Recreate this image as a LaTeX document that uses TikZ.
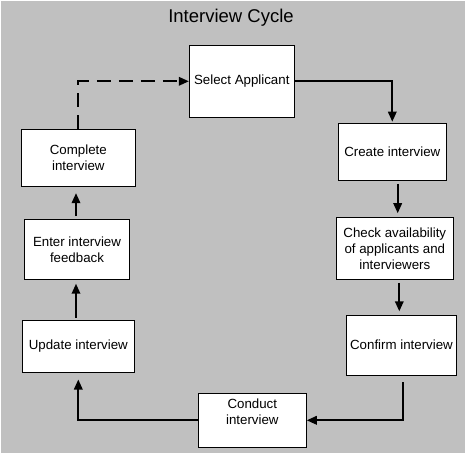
\documentclass[tikz,border=0pt]{standalone}
\usepackage{fontspec}
\setmainfont{Liberation Sans}
\usetikzlibrary{arrows.meta,calc}
\tikzset{
  box/.style={draw=black, line width=0.9pt, fill=white, inner sep=0pt, align=center,
    font=\fontsize{13.3}{16}\selectfont},
  txt/.style={inner sep=0pt, align=center, font=\fontsize{13.3}{16}\selectfont},
  arr/.style={line width=1.8pt, -{Triangle[length=10pt,width=8.5pt]}},
  dasharr/.style={arr, dash pattern=on 14pt off 8pt},
}
\begin{document}
\begin{tikzpicture}[x=1pt,y=-1pt]
\useasboundingbox (0,0) rectangle (466,454);
\fill[white] (0,0) rectangle (466,454);
\fill[fill={rgb,255:red,192;green,192;blue,192}] (1,1) rectangle (465,453);
\node[inner sep=0pt, font=\fontsize{18.5}{22}\selectfont] (title) at (231,17.3) {Interview Cycle};

\node[box, minimum width=105pt, minimum height=72pt] (sel) at (241.8,81.3) {Select Applicant};
\node[box, minimum width=108pt, minimum height=56.7pt] (cre) at (392.3,152) {Create interview};
\node[box, minimum width=117pt, minimum height=61.7pt] (chk) at (394.8,248.5) {Check availability\\of applicants and\\interviewers};
\node[box, minimum width=109.7pt, minimum height=59.7pt] (con) at (401.5,345.2) {Confirm interview};
\node[box, minimum width=108pt, minimum height=54pt] (cond) at (252.3,420.3) {};
\node[txt] (condt) at (252.3,411.3) {Conduct\\interview};
\node[box, minimum width=112pt, minimum height=52.3pt] (upd) at (78.3,346.2) {Update interview};
\node[box, minimum width=105.3pt, minimum height=60pt] (ent) at (77,249.3) {Enter interview\\feedback};
\node[box, minimum width=114pt, minimum height=57pt] (cmp) at (78.3,157.8) {Complete\\interview};

\draw[dasharr] (cmp.north) |- (sel.west);
\draw[arr] (sel.east) -| ($(cre.north)+(0,-1.5)$);
\draw[arr] ($(cre.south)+(5.4,3)$) -- ($(chk.north)+(2.9,-4)$);
\draw[arr] ($(chk.south)+(4.5,3)$) -- ($(con.north)+(-2.2,-3.6)$);
\draw[arr] ($(con.south)+(1.2,6.7)$) |- (cond.east);
\draw[arr] (cond.west) -| ($(upd.south)+(0,6.7)$);
\draw[arr] ($(upd.north)+(-2.3,-1.7)$) -- ($(ent.south)+(-1,4)$);
\draw[arr] ($(ent.north)+(-1,-2.6)$) -- ($(cmp.south)+(-2.3,6.4)$);
\end{tikzpicture}
\end{document}
